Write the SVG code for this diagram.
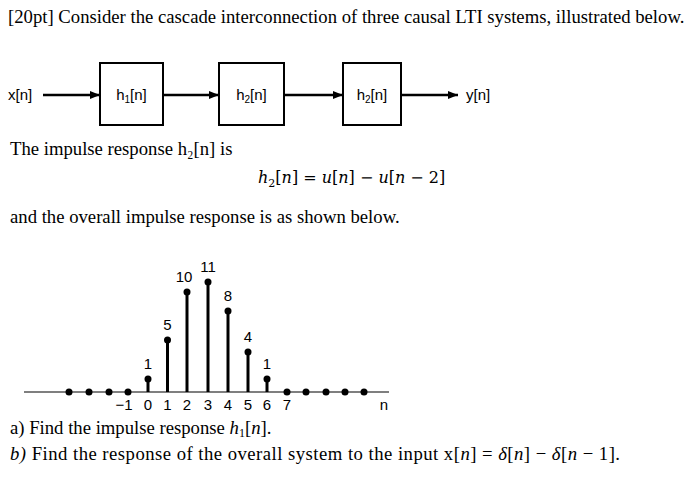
<svg xmlns="http://www.w3.org/2000/svg" width="700" height="486" viewBox="0 0 700 486">
<style>
.t{font-family:"Liberation Serif",serif;font-size:18.7px;fill:#000}
.s{font-family:"Liberation Sans",sans-serif;font-size:15px;fill:#000}
.m{font-family:"DejaVu Serif","Liberation Serif",serif;font-size:16px;fill:#000}
.b{fill:#fff;stroke:#000;stroke-width:2}
.c{stroke:#000;stroke-width:2.5;fill:none}
.st{stroke:#000;stroke-width:3}
</style>
<defs><marker id="a" markerWidth="10" markerHeight="8" refX="10" refY="4" orient="auto" markerUnits="userSpaceOnUse"><path d="M0,0 L10,4 L0,8 z" fill="#000"/></marker></defs>
<rect width="700" height="486" fill="#fff"/>
<text class="t" x="8" y="23">[20pt] Consider the cascade interconnection of three causal LTI systems, illustrated below.</text>
<text class="s" x="8" y="100">x[n]</text>
<text class="s" x="466" y="100">y[n]</text>
<g id="connectors">
<line class="c" x1="43" y1="95" x2="100" y2="95" marker-end="url(#a)"/>
<line class="c" x1="163" y1="95" x2="219" y2="95" marker-end="url(#a)"/>
<line class="c" x1="284" y1="95" x2="343" y2="95" marker-end="url(#a)"/>
<line class="c" x1="401" y1="95" x2="458" y2="95" marker-end="url(#a)"/>
</g>
<g id="h1"><rect class="b" x="100" y="63" width="63" height="62"/><text class="s" x="131.5" y="100" text-anchor="middle">h<tspan font-size="10" dy="3">1</tspan><tspan dy="-3">[n]</tspan></text></g>
<g id="h2a"><rect class="b" x="219" y="63" width="65" height="62"/><text class="s" x="251.5" y="100" text-anchor="middle">h<tspan font-size="10" dy="3">2</tspan><tspan dy="-3">[n]</tspan></text></g>
<g id="h2b"><rect class="b" x="343" y="63" width="58" height="62"/><text class="s" x="372" y="100" text-anchor="middle">h<tspan font-size="10" dy="3">2</tspan><tspan dy="-3">[n]</tspan></text></g>
<text class="t" x="10" y="155">The impulse response h₂[n] is</text>
<text class="m" x="258" y="183"><tspan font-style="italic">h</tspan><tspan font-size="11" dy="4">2</tspan><tspan dy="-4">[</tspan><tspan font-style="italic">n</tspan>] = <tspan font-style="italic">u</tspan>[<tspan font-style="italic">n</tspan>] − <tspan font-style="italic">u</tspan>[<tspan font-style="italic">n</tspan> − 2]</text>
<text class="t" x="10" y="223">and the overall impulse response is as shown below.</text>
<g id="plot">
<line x1="24" y1="392" x2="389" y2="392" stroke="#000" stroke-width="1.2"/>
<g fill="#000">
<circle cx="69" cy="392" r="3.5"/><circle cx="89" cy="392" r="3.5"/><circle cx="109" cy="392" r="3.5"/><circle cx="128" cy="392" r="3.5"/>
<circle cx="287" cy="392" r="3.5"/><circle cx="306" cy="392" r="3.5"/><circle cx="326" cy="392" r="3.5"/><circle cx="345" cy="392" r="3.5"/><circle cx="364" cy="392" r="3.5"/>
<line class="st" x1="148" y1="392" x2="148" y2="379"/><circle cx="148" cy="379" r="3.5"/>
<line class="st" x1="167.5" y1="392" x2="167.5" y2="340"/><circle cx="167.5" cy="340" r="3.5"/>
<line class="st" x1="187" y1="392" x2="187" y2="292"/><circle cx="187" cy="292" r="3.5"/>
<line class="st" x1="208" y1="392" x2="208" y2="282"/><circle cx="208" cy="282" r="3.5"/>
<line class="st" x1="228" y1="392" x2="228" y2="311"/><circle cx="228" cy="311" r="3.5"/>
<line class="st" x1="248" y1="392" x2="248" y2="352"/><circle cx="248" cy="352" r="3.5"/>
<line class="st" x1="267" y1="392" x2="267" y2="379"/><circle cx="267" cy="379" r="3.5"/>
</g>
<g class="s" font-size="13" text-anchor="middle">
<text x="148" y="369">1</text><text x="167.5" y="330">5</text><text x="184" y="282">10</text><text x="208" y="272">11</text><text x="228" y="301">8</text><text x="248" y="342">4</text><text x="267" y="369">1</text>
<text x="124" y="410">−1</text><text x="148" y="410">0</text><text x="167.5" y="410">1</text><text x="187" y="410">2</text><text x="208" y="410">3</text><text x="228" y="410">4</text><text x="248" y="410">5</text><text x="267" y="410">6</text><text x="287" y="410">7</text><text x="384" y="410">n</text>
</g>
</g>
<text class="t" x="10" y="434">a)  Find the impulse response <tspan font-style="italic">h</tspan><tspan font-size="12" dy="3">1</tspan><tspan dy="-3">[</tspan><tspan font-style="italic">n</tspan>].</text>
<text class="t" x="10" y="460" textLength="610" lengthAdjust="spacing"><tspan font-style="italic">b)</tspan>  Find the response of the overall system to the input x[<tspan font-style="italic">n</tspan>] = <tspan font-style="italic">δ</tspan>[<tspan font-style="italic">n</tspan>] − <tspan font-style="italic">δ</tspan>[<tspan font-style="italic">n</tspan> − 1].</text>
</svg>
